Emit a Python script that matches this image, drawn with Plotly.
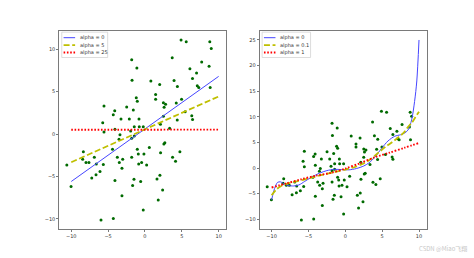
import plotly.graph_objects as go

# ---------------- data ----------------
pts_x = [4.9, 5.6, 8.8, 9.0, 3.7, 7.7, 6.1, 8.7, 7.0, 0.8, 3.95, 6.45, 2.0, 4.4, 7.1, 7.3, 8.85,
         1.45, 1.45, 4.97, 2.5, 2.8, 4.25, 2.6, 5.45, 6.35, 6.46, 4.38, 2.5, 2.1, 3.35,
         -1.8, -1.1, -1.75, -5.56, -2.48, -1.18, -1.04, -4.1, -4.3, -1.58, -3.25, -2.12, -0.81, -5.73,
         -4.07, -5.56, -1.45, -0.77, -0.23, -1.94, -3.39, -3.52, -1.8, -1.45,
         -4.4, -10.6, -10.03, -8.36, -8.45, -8.0, -7.6, -6.87, -6.6, -5.65, -7.22, -6.64, -6.1,
         -3.75, -3.48, -3.02, -3.12, -4.07, -3.12, -1.8, -1.04, -0.85, -0.9, -1.49, -1.67,
         -5.96, -4.29, -0.23, 0.59, 2.57, 2.7, -0.14, 2.12, 3.75, 4.74, 4.15, -0.45, 0.23,
         2.03, 1.63, -0.58, 2.4, 1.8]
pts_y = [11.1, 10.9, 10.9, 10.1, 9.0, 8.5, 7.7, 8.0, 7.2, 6.25, 6.3, 6.55, 5.85, 5.6, 5.7, 5.5, 5.5,
         4.67, 4.1, 4.1, 3.7, 3.5, 3.65, 3.15, 2.62, 2.15, 1.7, 1.65, 2.1, 1.15, 0.67,
         8.75, 7.8, 6.35, 3.3, 3.2, 4.27, 3.88, 2.74, 2.27, 2.82, 1.76, 1.76, 1.76, 1.33,
         0.55, 0.24, 0.86, 0.86, 0.86, 0.35, -0.08, -0.62, -0.51, -0.24,
         -1.8, -3.65, -6.2, -2.1, -2.98, -3.37, -3.37, -2.74, -3.53, -3.6, -5.2, -4.82, -4.43,
         -2.74, -3.37, -2.98, -4.04, -5.49, -7.29, -2.74, -1.8, -3.53, -2.35, -5.33, -6.08,
         -10.16, -9.96, -8.98, -1.6, -1.18, -1.02, -2.35, -2.2, -2.75, -2.1, -3.22, -3.37, -3.65,
         -4.86, -5.3, -5.6, -6.6, -7.8]

# left panel: linear ridge models (endpoints)
lin_x = [-10, 10]
lin_a0 = [-5.6, 6.8]
lin_a5 = [-3.33, 4.43]
lin_a25 = [0.5, 0.52]
left_labels = ["alpha = 0", "alpha = 5", "alpha = 25"]

# right panel: polynomial ridge models (curve samples)
poly0_x = [-10, -9.6, -9.2, -8.8, -8.3, -7.8, -7.0, -6.3, -5.5, -4.6, -3.5, -2.5, -1.5, -0.5,
           0.5, 1.5, 2.5, 3.2, 4.0, 4.9, 5.8, 6.7, 7.5, 8.0, 8.5, 9.0, 9.4, 9.7, 10.0]
poly0_y = [-6.2, -4.0, -2.8, -2.7, -3.1, -3.4, -3.5, -3.3, -2.6, -1.8, -1.0, -0.5, -0.25, -0.3,
           -0.35, -0.1, 0.4, 1.0, 2.1, 3.8, 5.3, 6.2, 6.5, 6.8, 7.4, 9.4, 13.0, 17.0, 25.0]
poly01_x = [-10, -9.3, -8.7, -7.8, -6.9, -5.7, -4.6, -3.0, -1.5, 0, 1.3, 2.5, 3.5, 4.5, 5.4,
            6.3, 7.2, 8.0, 8.5, 9.0, 9.5, 10]
poly01_y = [-5.3, -4.1, -3.5, -3.0, -2.7, -2.3, -1.87, -1.3, -0.8, -0.3, 0.2, 0.9, 1.8, 3.0, 4.1,
            5.0, 6.0, 7.0, 8.0, 8.8, 9.9, 11.0]
poly1_x = [-10, -8, -6, -4, -2, 0, 2, 4, 6, 8, 10]
poly1_y = [-3.8, -3.0, -2.2, -1.5, -0.95, -0.1, 0.95, 2.1, 3.0, 3.95, 4.9]
right_labels = ["alpha = 0", "alpha = 0.1", "alpha = 1"]

x_ticks = [-10, -5, 0, 5, 10]
y_ticks_left = [-10, -5, 0, 5, 10]
y_ticks_right = [-10, -5, 0, 5, 10, 15, 20, 25]

# ---------------- styles ----------------
BLUE = "rgb(70,70,255)"
YEL = "#bfbf00"
RED = "#ff0000"
PTS = "#006a00"
FONT = "DejaVu Sans"
styles = [dict(color=BLUE, width=1), dict(color=YEL, width=1.8, dash="6px,2.6px"),
          dict(color=RED, width=1.9, dash="1.6px,1.7px")]

fig = go.Figure()
for xa, ya in (("x", "y"), ("x2", "y2")):
    fig.add_trace(go.Scatter(x=pts_x, y=pts_y, mode="markers", xaxis=xa, yaxis=ya,
                             marker=dict(color=PTS, size=3), showlegend=False))

for ys, st in zip([lin_a0, lin_a5, lin_a25], styles):
    fig.add_trace(go.Scatter(x=lin_x, y=ys, mode="lines", line=st, xaxis="x", yaxis="y",
                             showlegend=False))
for xs, ys, st in zip([poly0_x, poly01_x, poly1_x], [poly0_y, poly01_y, poly1_y], styles):
    fig.add_trace(go.Scatter(x=xs, y=ys, mode="lines", line=dict(st, shape="spline", smoothing=0.8),
                             xaxis="x2", yaxis="y2", showlegend=False))

axis_common = dict(showline=True, mirror=True, linecolor="#7a7a7a", linewidth=1,
                   ticks="outside", ticklen=2, tickwidth=1, tickcolor="#7a7a7a",
                   showgrid=False, zeroline=False,
                   tickfont=dict(family=FONT, size=5, color="#333"))
fig.update_layout(
    width=474, height=258, margin=dict(l=0, r=0, t=0, b=0),
    paper_bgcolor="white", plot_bgcolor="white", showlegend=False,
    xaxis=dict(axis_common, domain=[0.125, 0.4773], range=[-11.63, 11.03], tickvals=x_ticks,
               anchor="y"),
    yaxis=dict(axis_common, domain=[0.112, 0.88], range=[-11.22, 12.16], tickvals=y_ticks_left,
               anchor="x"),
    xaxis2=dict(axis_common, domain=[0.5477, 0.9], range=[-11.63, 11.03], tickvals=x_ticks,
                anchor="y2"),
    yaxis2=dict(axis_common, domain=[0.112, 0.88], range=[-11.92, 26.76], tickvals=y_ticks_right,
                anchor="x2"),
)

# ---------------- hand-drawn legends ----------------
def add_legend(xr, yr, labels, box_w):
    fig.add_shape(type="rect", xref=xr, yref=yr, x0=0.015, x1=0.015 + box_w, y0=0.866, y1=0.994,
                  line=dict(color="#d4d4d4", width=0.8), fillcolor="rgba(255,255,255,0.8)")
    rows = [0.966, 0.929, 0.891]
    for lab, st, ry in zip(labels, styles, rows):
        fig.add_shape(type="line", xref=xr, yref=yr, x0=0.026, x1=0.095, y0=ry, y1=ry,
                      line=st)
        fig.add_annotation(xref=xr, yref=yr, x=0.112, y=ry, text=lab, showarrow=False,
                           xanchor="left", yanchor="middle",
                           font=dict(family=FONT, size=5, color="#333"))

add_legend("x domain", "y domain", left_labels, 0.275)
add_legend("x2 domain", "y2 domain", right_labels, 0.29)

fig.add_annotation(xref="paper", yref="paper", x=0.99, y=0.01, text="CSDN @Miao飞翔",
                   showarrow=False, xanchor="right", yanchor="bottom",
                   font=dict(family="Noto Sans CJK SC", size=6, color="#c8c8c8"))

fig.write_html("out.html")
